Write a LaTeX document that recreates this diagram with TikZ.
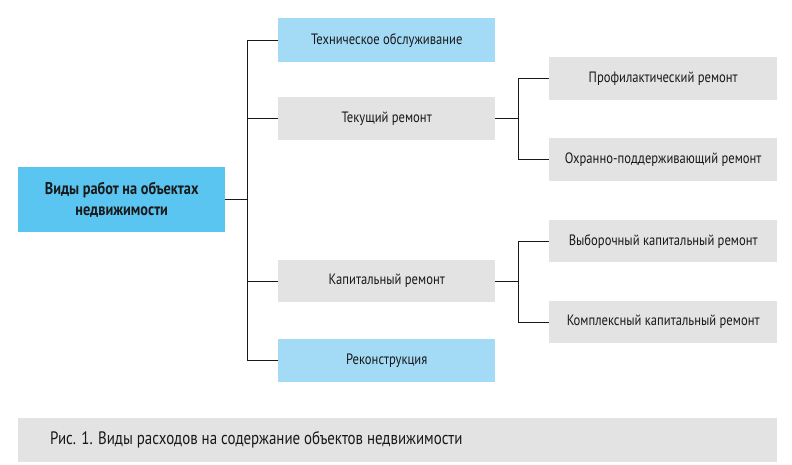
\documentclass[tikz,border=0pt]{standalone}
\usepackage{fontspec}
\setmainfont{PT Sans}[FakeStretch=0.84]
\newfontfamily\capfont{PT Sans}[FakeStretch=0.83]
\definecolor{mainblue}{HTML}{5BC5F2}
\definecolor{lightblue}{HTML}{A3DAF5}
\definecolor{boxgrey}{HTML}{E3E3E3}
\begin{document}
\begin{tikzpicture}[x=1pt,y=-1pt,
  box/.style={anchor=north west, inner sep=0pt, font=\fontsize{15}{17}\selectfont, text=black!90},
  link/.style={draw=black!90, line width=1pt}]
\useasboundingbox (0,0) rectangle (792,464);
% boxes
\node[box, fill=mainblue, minimum width=207, minimum height=65, align=center, font=\fontsize{17}{21}\selectfont\bfseries] (main) at (18,167) {Виды работ на объектах\\недвижимости};
\node[box, fill=lightblue, minimum width=217, minimum height=44] (to) at (278,18) {Техническое обслуживание};
\node[box, fill=boxgrey, minimum width=217, minimum height=43] (tr) at (278,97) {Текущий ремонт};
\node[box, fill=boxgrey, minimum width=217, minimum height=42] (kr) at (278,260) {Капитальный ремонт};
\node[box, fill=lightblue, minimum width=217, minimum height=43] (rk) at (278,339) {Реконструкция};
\node[box, fill=boxgrey, minimum width=228, minimum height=43] (pr) at (549,57) {Профилактический ремонт};
\node[box, fill=boxgrey, minimum width=228, minimum height=43] (oh) at (549,138) {Охранно-поддерживающий ремонт};
\node[box, fill=boxgrey, minimum width=228, minimum height=42] (vy) at (549,220) {Выборочный капитальный ремонт};
\node[box, fill=boxgrey, minimum width=228, minimum height=42] (ko) at (549,301) {Комплексный капитальный ремонт};
\node[box, fill=boxgrey, minimum width=759, minimum height=44] (cap) at (18,418) {};
\node[anchor=west, inner sep=0pt, font=\capfont\fontsize{18}{20}\selectfont, text=black!90] (captext) at ([xshift=32pt]cap.west) {Рис. 1. Виды расходов на содержание объектов недвижимости};
% connectors
\coordinate (t1) at ([xshift=22pt]main.east);
\draw[link] (main.east) -- (t1);
\draw[link] (to.west) -| (t1);
\draw[link] (rk.west) -| (t1);
\draw[link] (tr.west) -| (t1);
\draw[link] (kr.west) -| (t1);
\coordinate (b1) at ([xshift=23pt]tr.east);
\draw[link] (tr.east) -- (b1);
\draw[link] (pr.west) -| (b1);
\draw[link] (oh.west) -| (b1);
\coordinate (b2) at ([xshift=23pt]kr.east);
\draw[link] (kr.east) -- (b2);
\draw[link] (vy.west) -| (b2);
\draw[link] (ko.west) -| (b2);
\end{tikzpicture}
\end{document}
